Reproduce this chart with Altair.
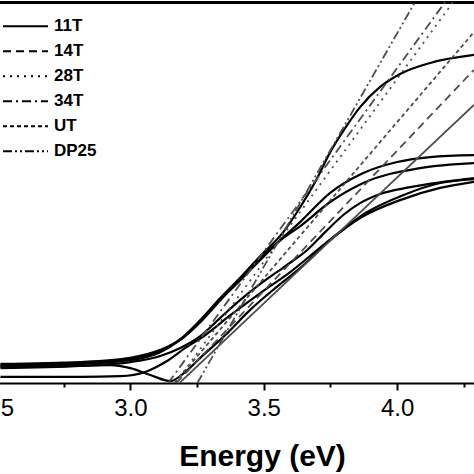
import altair as alt
import pandas as pd

# ---- data (x: photon energy in eV, y: Tauc value, arbitrary units 0-100) ----
samples = ["11T", "14T", "28T", "34T", "UT", "DP25"]

c1_x = [2.513, 2.813, 3.000, 3.112, 3.187, 3.262, 3.337, 3.412, 3.487, 3.573, 3.637, 3.693, 3.749, 3.805, 3.861, 3.936, 4.011, 4.124, 4.288]
c1_y = [5.0, 5.5, 6.6, 8.7, 11.3, 16.0, 21.8, 27.6, 33.3, 39.6, 46.2, 52.8, 60.6, 66.9, 72.4, 77.7, 81.1, 84.0, 86.1]

c2_x = [2.513, 2.813, 3.000, 3.112, 3.187, 3.262, 3.337, 3.412, 3.487, 3.562, 3.637, 3.749, 3.873, 4.000, 4.124, 4.288]
c2_y = [4.5, 5.0, 6.0, 8.1, 11.3, 16.0, 21.8, 27.0, 32.3, 37.5, 42.3, 49.9, 55.1, 58.0, 59.3, 59.8]

c3_x = [2.513, 2.813, 3.000, 3.112, 3.187, 3.262, 3.337, 3.412, 3.487, 3.562, 3.637, 3.749, 3.873, 4.086, 4.288]
c3_y = [4.7, 5.2, 6.3, 8.4, 11.5, 16.5, 22.3, 27.6, 32.8, 37.5, 41.2, 47.5, 52.5, 56.4, 57.7]

c4_x = [2.513, 2.813, 3.000, 3.112, 3.187, 3.262, 3.337, 3.412, 3.487, 3.581, 3.663, 3.730, 3.798, 3.861, 3.936, 4.049, 4.288]
c4_y = [3.9, 4.5, 5.5, 7.1, 9.2, 12.3, 17.1, 21.8, 26.0, 30.7, 34.9, 39.6, 44.1, 47.2, 49.6, 51.4, 53.8]

c5_x = [2.513, 2.813, 2.963, 3.056, 3.131, 3.206, 3.281, 3.375, 3.487, 3.599, 3.723, 3.888, 4.022, 4.161, 4.288]
c5_y = [1.6, 1.6, 1.8, 2.9, 5.5, 9.2, 12.6, 17.8, 23.6, 29.1, 36.2, 44.9, 49.3, 52.5, 53.5]

c6_x = [2.513, 2.813, 2.925, 3.000, 3.075, 3.150, 3.206, 3.262, 3.356, 3.449, 3.543, 3.637, 3.749, 3.861, 4.011, 4.161, 4.288]
c6_y = [4.2, 4.5, 4.7, 3.9, 2.1, 0.5, 2.9, 6.6, 12.6, 19.2, 24.9, 30.2, 37.5, 43.3, 48.0, 51.2, 52.8]

curve_x = [c1_x, c2_x, c3_x, c4_x, c5_x, c6_x]
curve_y = [c1_y, c2_y, c3_y, c4_y, c5_y, c6_y]

# linear extrapolation (tangent) lines: start on the axis, end point
tan_x0 = [3.184, 3.172, 3.169, 3.142, 3.165, 3.251]
tan_y0 = [0, 0, 0, 0, 0, 0]
tan_x1 = [4.288, 4.288, 4.210, 4.180, 4.288, 4.067]
tan_y1 = [73.0, 82.2, 100.0, 100.0, 92.1, 100.0]

x_ticks = [2.5, 2.75, 3.0, 3.25, 3.5, 3.75, 4.0, 4.25]

# ---- tables ----
rows = []
for s, xs, ys in zip(samples, curve_x, curve_y):
    for i, (a, b) in enumerate(zip(xs, ys)):
        rows.append({"sample": s, "E": a, "v": b, "o": i})
curves = pd.DataFrame(rows)

trows = []
for s, a0, b0, a1, b1 in zip(samples, tan_x0, tan_y0, tan_x1, tan_y1):
    trows.append({"sample": s, "E": a0, "v": b0, "o": 0})
    trows.append({"sample": s, "E": a1, "v": b1, "o": 1})
tangents = pd.DataFrame(trows)

FONT = "Liberation Sans"
xscale = alt.Scale(domain=[2.5, 4.288], nice=False, zero=False)
yscale = alt.Scale(domain=[0, 100], nice=False, zero=False)

curve_layer = alt.Chart(curves).mark_line(
    color="black", strokeWidth=2.2, interpolate="monotone", clip=True
).encode(
    x=alt.X("E:Q", scale=xscale, axis=alt.Axis(
        title="Energy (eV)", values=x_ticks,
        labelExpr="datum.value % 0.5 == 0 ? format(datum.value, '.1f') : ''",
        tickSize={"condition": {"test": "datum.value % 0.5 == 0", "value": 7}, "value": 4},
        tickWidth=2, tickColor="black", domainColor="black", domainWidth=2,
        labelFont=FONT, labelFontSize=24, labelColor="black", labelPadding=6,
        labelFlush=False, labelOverlap=False,
        titleFont=FONT, titleFontSize=30, titleFontWeight="bold", titleColor="black",
        titleX=265, titleY=82, titleBaseline="alphabetic", titleAnchor="middle",
        grid=False,
    )),
    y=alt.Y("v:Q", scale=yscale, axis=None),
    detail="sample:N",
    order="o:Q",
)

dash_range = [[1, 0], [8, 5], [2, 5], [9, 4, 2, 4], [4, 3], [9, 3, 2, 3, 2, 3]]

tangent_layer = alt.Chart(tangents).mark_line(
    color="#4d4d4d", strokeWidth=1.8, clip=True
).encode(
    x=alt.X("E:Q", scale=xscale, axis=alt.Axis(
        orient="top", title=None, labels=False, ticks=False, grid=False,
        domainColor="black", domainWidth=3,
    )),
    y=alt.Y("v:Q", scale=yscale, axis=None),
    strokeDash=alt.StrokeDash("sample:N", scale=alt.Scale(domain=samples, range=dash_range),
                              legend=alt.Legend(
                                  title=None, orient="none", legendX=5, legendY=12,
                                  symbolType="stroke", symbolSize=2025, symbolStrokeWidth=2,
                                  symbolStrokeColor="black", clipHeight=24.3,
                                  labelFont=FONT, labelFontSize=17, labelFontWeight="bold",
                                  labelColor="black", labelOffset=5, rowPadding=0, padding=0,
                              )),
    order="o:Q",
)

chart = alt.layer(curve_layer, tangent_layer).resolve_axis(x="independent").properties(
    width=477, height=381,
    autosize=alt.AutoSizeParams(type="none"),
    padding={"left": -3, "top": 2, "right": 0, "bottom": 91},
    background="white",
).configure_view(stroke=None)

chart.save("out.html", embed_options={"renderer": "svg", "actions": False})
